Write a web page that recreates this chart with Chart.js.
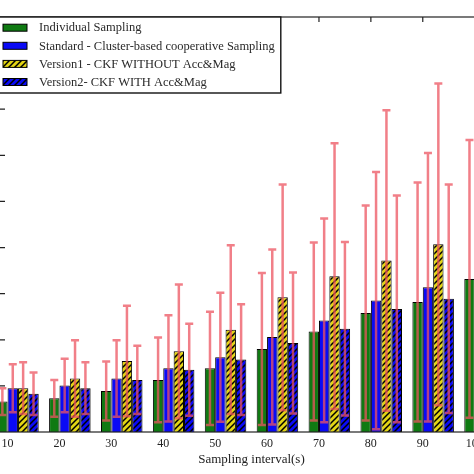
<!DOCTYPE html>
<html>
<head>
<meta charset="utf-8">
<script src="https://cdn.jsdelivr.net/npm/chart.js@4.4.1/dist/chart.umd.min.js"></script>
<style>
  html, body { margin: 0; padding: 0; background: #fff; overflow: hidden; }
  #wrap { position: absolute; left: -8px; top: 0; width: 519px; height: 474px; }
</style>
</head>
<body>
<div id="wrap"><canvas id="bars"></canvas></div>
<script>
// values are in y-tick steps (the tick labels are cut off in the source picture)
const intervals = ["10", "20", "30", "40", "50", "60", "70", "80", "90", "100"];

const individual    = [0.66, 0.73, 0.89, 1.13, 1.38, 1.80, 2.18, 2.58, 2.82, 3.32];
const individualErr = [0.29, 0.40, 0.64, 0.92, 1.23, 1.65, 1.93, 2.33, 2.59, 3.01];

const standard    = [0.95, 1.01, 1.16, 1.38, 1.62, 2.06, 2.42, 2.85, 3.14, 3.60];
const standardErr = [0.52, 0.58, 0.83, 1.15, 1.40, 1.90, 2.21, 2.79, 2.91, 3.30];

const version1    = [0.95, 1.16, 1.54, 1.75, 2.22, 2.92, 3.38, 3.72, 4.07, 4.60];
const version1Err = [0.56, 0.83, 1.20, 1.45, 1.83, 2.45, 2.88, 3.26, 3.49, 3.90];

const version2    = [0.83, 0.95, 1.13, 1.35, 1.57, 1.93, 2.24, 2.67, 2.89, 3.30];
const version2Err = [0.46, 0.56, 0.74, 1.00, 1.20, 1.53, 1.88, 2.46, 2.48, 3.00];

const yTicks = [1, 2, 3, 4, 5, 6, 7, 8];

const serif = "'Liberation Serif', 'DejaVu Serif', serif";

function hatch(bg) {
  const c = document.createElement("canvas");
  c.width = 6;
  c.height = 6;
  const g = c.getContext("2d");
  g.fillStyle = bg;
  g.fillRect(0, 0, 6, 6);
  g.strokeStyle = "#000";
  g.lineWidth = 1.5;
  g.beginPath();
  g.moveTo(-1, 7); g.lineTo(7, -1);
  g.moveTo(-1, 1); g.lineTo(1, -1);
  g.moveTo(5, 7); g.lineTo(7, 5);
  g.stroke();
  return g.createPattern(c, "repeat");
}

function barSet(label, data, errors, fill) {
  return {
    label: label,
    data: data,
    errors: errors,
    backgroundColor: fill,
    borderColor: "#000",
    borderWidth: 1,
    categoryPercentage: 0.8,
    barPercentage: 1.0,
  };
}

// red error bars on top of every bar
const errorBars = {
  id: "errorBars",
  afterDatasetsDraw(chart) {
    const ctx = chart.ctx;
    const y = chart.scales.y;
    ctx.save();
    ctx.strokeStyle = "rgba(236, 84, 96, 0.75)";
    ctx.lineWidth = 2.5;
    chart.data.datasets.forEach((ds, i) => {
      chart.getDatasetMeta(i).data.forEach((bar, j) => {
        const hi = y.getPixelForValue(ds.data[j] + ds.errors[j]);
        const lo = y.getPixelForValue(ds.data[j] - ds.errors[j]);
        ctx.beginPath();
        ctx.moveTo(bar.x, lo); ctx.lineTo(bar.x, hi);
        ctx.moveTo(bar.x - 4, hi); ctx.lineTo(bar.x + 4, hi);
        ctx.moveTo(bar.x - 4, lo); ctx.lineTo(bar.x + 4, lo);
        ctx.stroke();
      });
    });
    ctx.restore();
  },
};

// frame, inward ticks and the boxed legend
const frameAndLegend = {
  id: "frameAndLegend",
  afterDraw(chart) {
    const ctx = chart.ctx;
    const area = chart.chartArea;
    const x = chart.scales.x;
    const y = chart.scales.y;

    ctx.save();
    ctx.font = "12.5px " + serif;
    const textW = Math.max(...chart.data.datasets.map(d => ctx.measureText(d.label).width));
    const box = { left: area.left + 7, top: area.top, right: area.left + 47 + textW + 6, bottom: area.top + 76 };
    const inBox = (px, py) => px <= box.right && py <= box.bottom;

    ctx.strokeStyle = "#222";
    ctx.lineWidth = 1.2;
    ctx.strokeRect(area.left, area.top, area.right - area.left, area.bottom - area.top);

    ctx.beginPath();
    yTicks.forEach(v => {
      const py = y.getPixelForValue(v);
      if (inBox(area.left + 8, py)) return;
      ctx.moveTo(area.left + 7, py); ctx.lineTo(area.left + 13, py);
    });
    const step = (area.right - area.left) / intervals.length;
    intervals.forEach((c, i) => {
      const px = x.getPixelForValue(i) - 0.2 * step;
      if (inBox(px, area.top + 2)) return;
      ctx.moveTo(px, area.top); ctx.lineTo(px, area.top + 5);
    });
    ctx.stroke();

    ctx.fillStyle = "#fff";
    ctx.fillRect(box.left, box.top, box.right - box.left, box.bottom - box.top);
    ctx.lineWidth = 1.4;
    ctx.strokeStyle = "#111";
    ctx.strokeRect(box.left, box.top, box.right - box.left, box.bottom - box.top);

    ctx.textBaseline = "middle";
    chart.data.datasets.forEach((ds, i) => {
      const cy = box.top + 10.7 + i * 18.1;
      ctx.fillStyle = ds.backgroundColor;
      ctx.fillRect(box.left + 4, cy - 3.5, 24, 7);
      ctx.lineWidth = 1;
      ctx.strokeStyle = "#000";
      ctx.strokeRect(box.left + 4, cy - 3.5, 24, 7);
      ctx.fillStyle = "#2a2a2a";
      ctx.fillText(ds.label, box.left + 40, cy + 0.5);
    });
    ctx.restore();
  },
};

const canvas = document.querySelector("#bars");

const chart = new Chart(canvas, {
  type: "bar",
  data: {
    labels: intervals,
    datasets: [
      barSet("Individual Sampling", individual, individualErr, "#0f7a12"),
      barSet("Standard - Cluster-based cooperative Sampling", standard, standardErr, "#0a0af5"),
      barSet("Version1 - CKF WITHOUT Acc&Mag", version1, version1Err, hatch("#e2d414")),
      barSet("Version2- CKF WITH Acc&Mag", version2, version2Err, hatch("#0a0af5")),
    ],
  },
  options: {
    responsive: true,
    maintainAspectRatio: false,
    animation: false,
    layout: { padding: { top: 17, left: 0, right: 0, bottom: 0 } },
    plugins: {
      legend: { display: false },
      tooltip: { enabled: false },
    },
    scales: {
      x: {
        offset: true,
        grid: { display: false, drawTicks: false },
        border: { display: false },
        ticks: {
          color: "#222",
          font: { family: serif, size: 12 },
          padding: 5,
          labelOffset: -10.4,
          maxRotation: 0,
          autoSkip: false,
        },
        title: {
          display: true,
          text: "Sampling interval(s)",
          color: "#222",
          font: { family: serif, size: 13 },
          padding: { top: 0, bottom: 7 },
        },
        afterFit(scale) {
          scale.height = 42;
        },
      },
      y: { display: false, min: 0, max: 9 },
    },
  },
  plugins: [errorBars, frameAndLegend],
});
</script>
</body>
</html>
